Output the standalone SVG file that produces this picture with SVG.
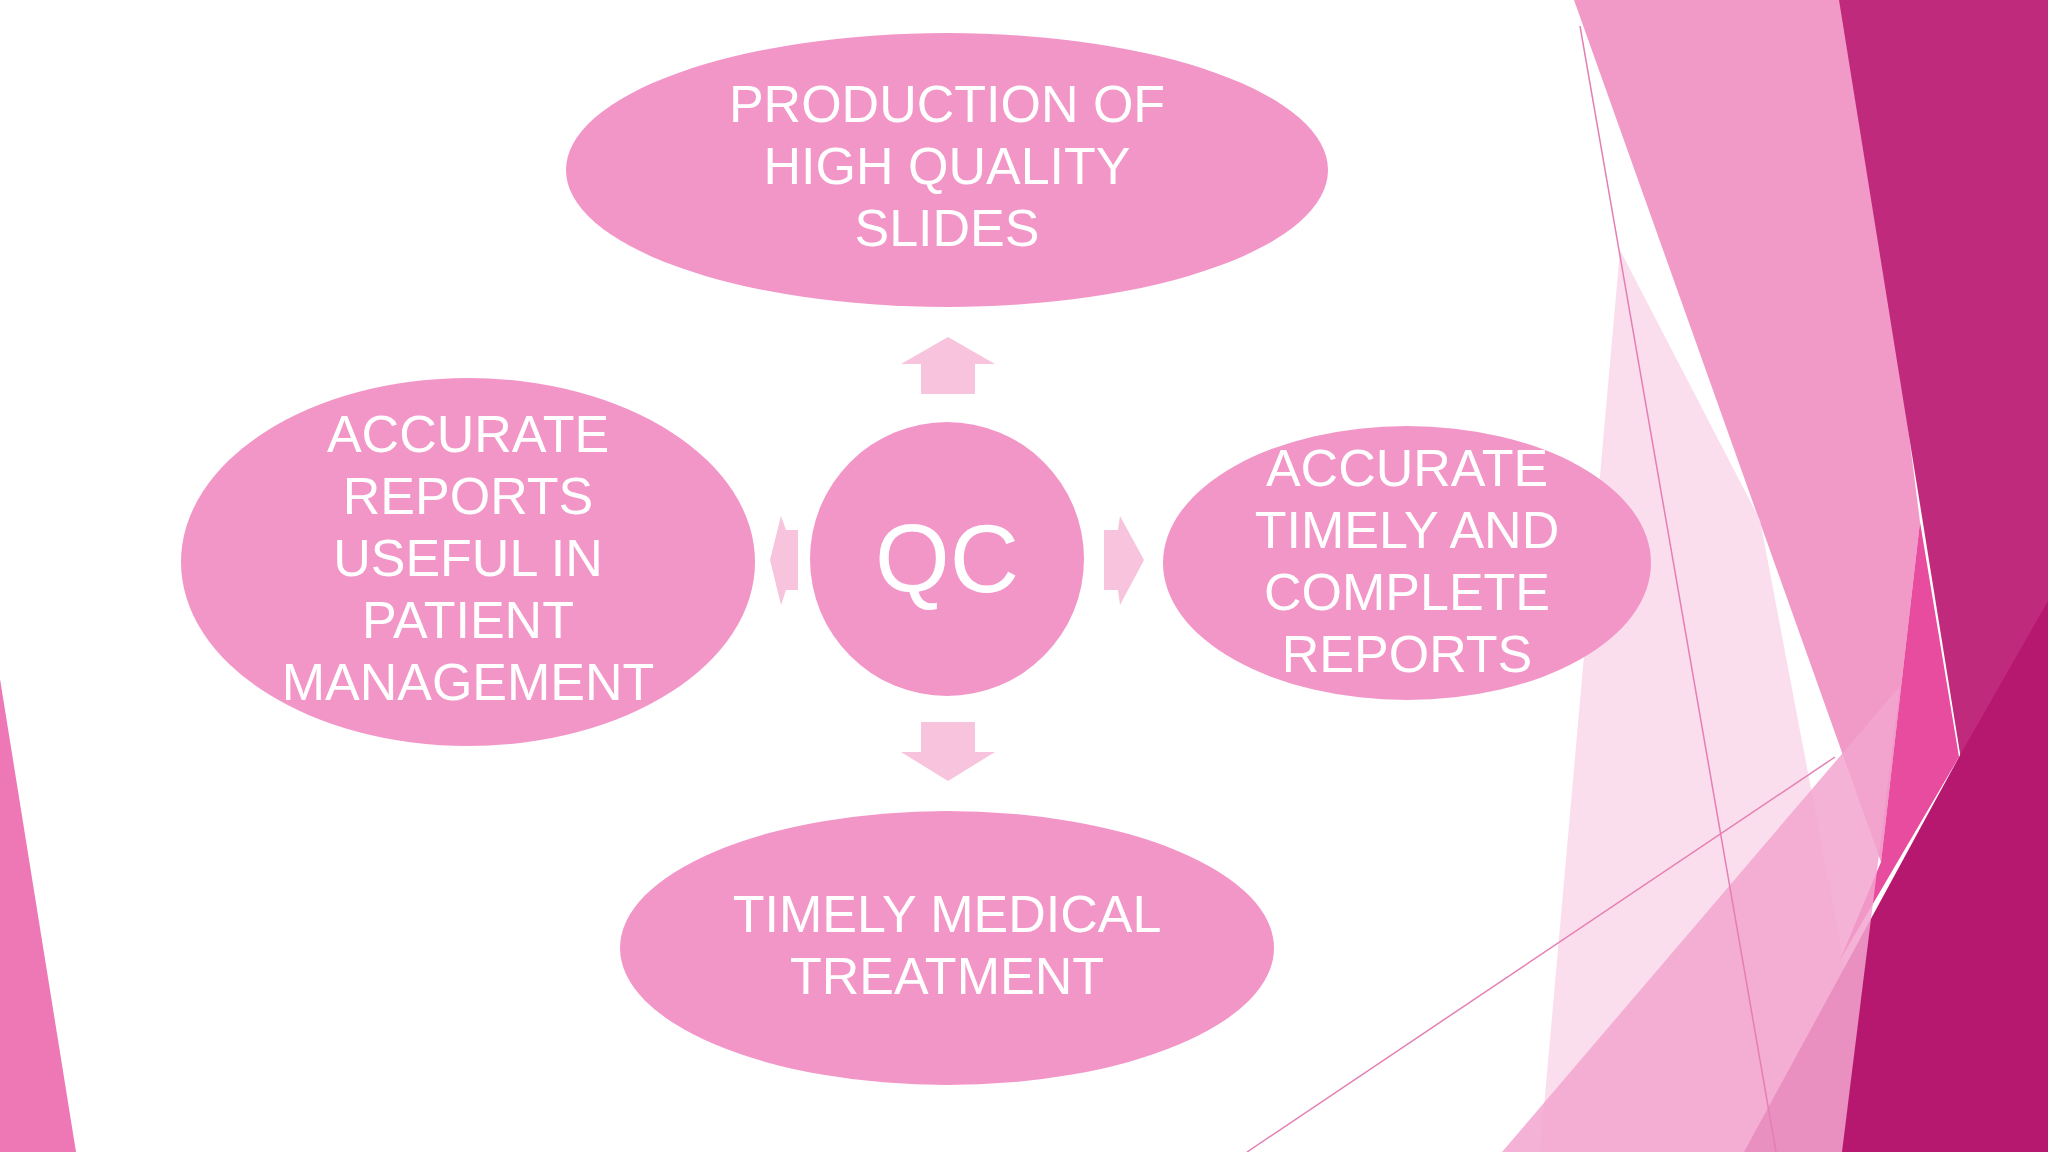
<svg xmlns="http://www.w3.org/2000/svg" width="2048" height="1152" viewBox="0 0 2048 1152">
<style>
.n{fill:#f296c8}
.t{font-family:"Liberation Sans",Arial,sans-serif;fill:#fff;font-size:52px;text-anchor:middle}
.a{fill:#f7c3dd}
</style>
<rect width="2048" height="1152" fill="#fff"/>
<g id="background">
<polygon points="1574,0 1854,0 1920,522 1881,862" fill="#f08fc2" opacity="0.9"/>
<polygon points="1620,250 1760,520 1880,1152 1540,1152" fill="#fad6e8" opacity="0.8"/>
<polygon points="1839,0 2048,0 2048,1152 2024,1152" fill="#c02a7c"/>
<polygon points="1959,757 2048,601 2048,1152 1744,1152" fill="#b5186e"/>
<polygon points="1881,862 1920,522 1959,757 1840,960" fill="#e84c9f"/>
<polygon points="1502,1152 1900,686 1842,1152" fill="#f2a6cf" opacity="0.85"/>
<polygon points="0,679 76,1152 0,1152" fill="#ee78b6"/>
<line x1="1580" y1="26" x2="1776" y2="1152" stroke="#e57fb3" stroke-width="1.5"/>
<line x1="1247" y1="1152" x2="1835" y2="757" stroke="#e57fb3" stroke-width="1.5"/>
</g>
<g id="connectors">
<polygon class="a" points="901,364 948,337 995,364 975,364 975,394 921,394 921,364"/>
<polygon class="a" points="921,722 975,722 975,752 995,752 948,781 901,752 921,752"/>
<polygon class="a" points="798,530 798,590 786,590 781,605 770,560 781,516 786,530"/>
<polygon class="a" points="1104,530 1118,530 1120,516 1144,560 1120,605 1118,590 1104,590"/>
</g>
<g id="top"><ellipse class="n" cx="947" cy="170" rx="381" ry="137"/>
<text class="t"><tspan x="947" y="122">PRODUCTION OF</tspan><tspan x="947" y="184">HIGH QUALITY</tspan><tspan x="947" y="246">SLIDES</tspan></text></g>
<g id="left"><ellipse class="n" cx="468" cy="562" rx="287" ry="184"/>
<text class="t"><tspan x="468" y="452">ACCURATE</tspan><tspan x="468" y="514">REPORTS</tspan><tspan x="468" y="576">USEFUL IN</tspan><tspan x="468" y="638">PATIENT</tspan><tspan x="468" y="700">MANAGEMENT</tspan></text></g>
<g id="right"><ellipse class="n" cx="1407" cy="563" rx="244" ry="137"/>
<text class="t"><tspan x="1407" y="486">ACCURATE</tspan><tspan x="1407" y="548">TIMELY AND</tspan><tspan x="1407" y="610">COMPLETE</tspan><tspan x="1407" y="672">REPORTS</tspan></text></g>
<g id="bottom"><ellipse class="n" cx="947" cy="948" rx="327" ry="137"/>
<text class="t"><tspan x="947" y="932">TIMELY MEDICAL</tspan><tspan x="947" y="994">TREATMENT</tspan></text></g>
<g id="qc"><circle class="n" cx="947" cy="559" r="137"/>
<text class="t" x="947" y="592" style="font-size:96px">QC</text></g>
</svg>
